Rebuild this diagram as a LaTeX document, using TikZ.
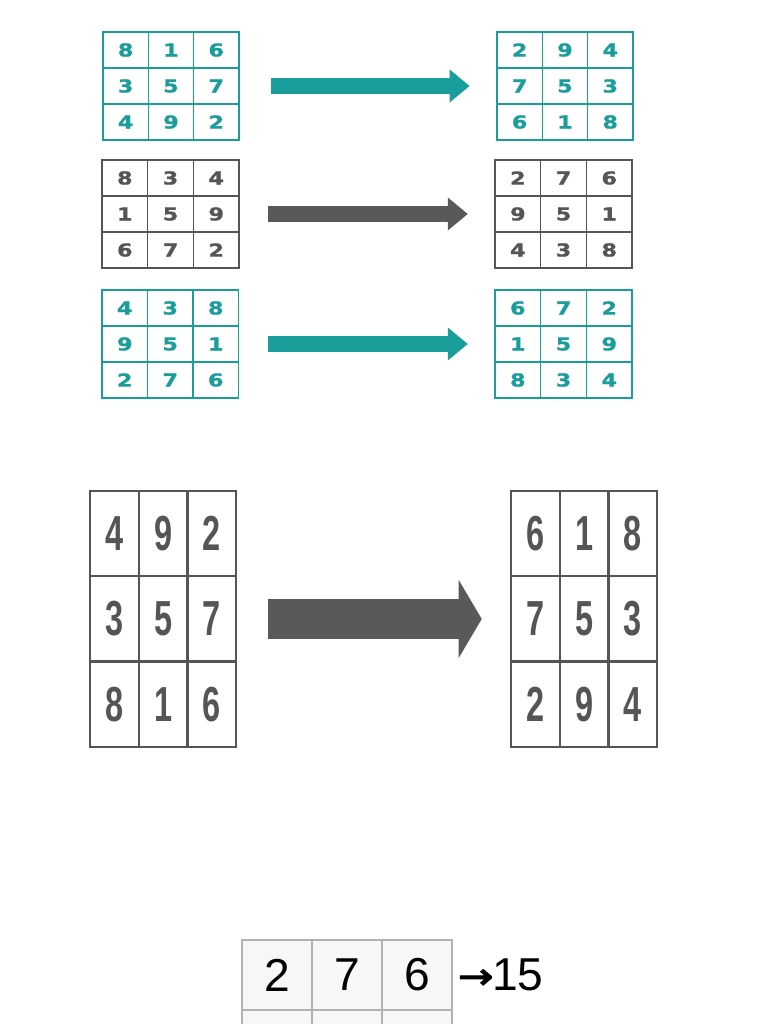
\documentclass[tikz,border=0pt]{standalone}
\usepackage{fontspec}
\usepackage{tikz}
\usetikzlibrary{arrows.meta,calc}
\newfontfamily\dejavu{DejaVu Sans}[BoldFeatures={FakeBold=1}]
\newfontfamily\heavyarrow{DejaVu Sans}[FakeBold=3]
\newfontfamily\arialike{Liberation Sans}
\definecolor{msteal}{RGB}{26,158,156}
\definecolor{msgris}{RGB}{85,85,85}
\definecolor{msfleche}{RGB}{89,89,89}
\definecolor{msclair}{RGB}{178,178,178}
\definecolor{mspale}{RGB}{247,247,247}
\newcommand{\widedigit}[1]{\scalebox{1.25}[1]{#1}}
\newcommand{\narrowdigit}[1]{\scalebox{0.66}[1]{#1}}
% one 3x3 square: name, style, format, x0, y0, cell w, cell h, digits
\newcommand{\magicsq}[8]{%
  \foreach \cellv [count=\i from 0] in {#8} {
    \pgfmathtruncatemacro{\cx}{mod(\i,3)}
    \pgfmathtruncatemacro{\cy}{floor(\i/3)}
    \node[#2] (#1\i) at ({#4+(\cx+0.5)*#6},{#5+(\cy+0.5)*#7}) {#3{\cellv}};
  }
}
\tikzset{
  smallcell/.style={
    rectangle, draw=#1, text=#1, line width=0.9pt, inner sep=0pt,
    minimum width=1.1375cm, minimum height=0.9cm,
    font=\dejavu\bfseries\fontsize{12.7}{14}\selectfont
  },
  bigcell/.style={
    rectangle, draw=msgris, text=msgris, line width=1.6pt, inner sep=0pt,
    minimum width=1.2175cm, minimum height=2.1325cm,
    font=\arialike\bfseries\fontsize{35}{40}\selectfont
  },
  sumcell/.style={
    rectangle, draw=msclair, fill=mspale, line width=1.1pt, inner sep=0pt,
    minimum width=1.75cm, minimum height=1.75cm,
    font=\arialike\fontsize{32.8}{36}\selectfont
  },
  thinarrow/.style={
    #1, line width=12pt,
    -{Triangle[length=14.2pt,width=23.5pt,line width=0pt]}
  },
  fatarrow/.style={
    msfleche, line width=28.5pt,
    -{Triangle[length=16.4pt,width=55.5pt,line width=0pt]},
    shorten <=22pt, shorten >=20pt
  }
}
\begin{document}
\begin{tikzpicture}[x=0.025cm, y=-0.025cm]
  \useasboundingbox (0,0) rectangle (768,1024);
  \clip (0,0) rectangle (768,1024);
  \fill[white] (0,0) rectangle (768,1024);

  % Top squares
  \magicsq{la}{smallcell=msteal}{\widedigit}{103}{32}{45.3}{36}{8,1,6,3,5,7,4,9,2}
  \magicsq{ra}{smallcell=msteal}{\widedigit}{497}{32}{45.3}{36}{2,9,4,7,5,3,6,1,8}
  \magicsq{lb}{smallcell=msgris}{\widedigit}{102}{160}{45.7}{36}{8,3,4,1,5,9,6,7,2}
  \magicsq{rb}{smallcell=msgris}{\widedigit}{495}{160}{45.7}{36}{2,7,6,9,5,1,4,3,8}
  \magicsq{lc}{smallcell=msteal}{\widedigit}{102}{290}{45.5}{36}{4,3,8,9,5,1,2,7,6}
  \magicsq{rc}{smallcell=msteal}{\widedigit}{495}{290}{45.7}{36}{6,7,2,1,5,9,8,3,4}

  \draw[thinarrow=msteal, shorten <=22pt, shorten >=19pt] (la5.east) -- (ra3.west);
  \draw[thinarrow=msfleche, shorten <=20.5pt, shorten >=19pt] (lb5.east) -- (rb3.west);
  \draw[thinarrow=msteal, shorten <=20.5pt, shorten >=19pt] (lc5.east) -- (rc3.west);

  % Big squares
  \magicsq{bl}{bigcell}{\narrowdigit}{90}{491}{48.7}{85.3}{4,9,2,3,5,7,8,1,6}
  \magicsq{br}{bigcell}{\narrowdigit}{511}{491}{48.7}{85.3}{6,1,8,7,5,3,2,9,4}
  \draw[fatarrow] (bl5.east) -- (br3.west);

  % Row sum
  \magicsq{s}{sumcell}{\mbox}{242}{940}{70}{70}{2,7,6,{},{},{}}
  \node[anchor=west, inner sep=0pt, font=\arialike\fontsize{32.8}{36}\selectfont]
    (total) at ($(s2.east)+(5,0)$)
    {\raisebox{1.5pt}{\scalebox{1}[0.85]{\heavyarrow\fontsize{30}{30}\selectfont →}}\kern-1pt 15};
\end{tikzpicture}
\end{document}
